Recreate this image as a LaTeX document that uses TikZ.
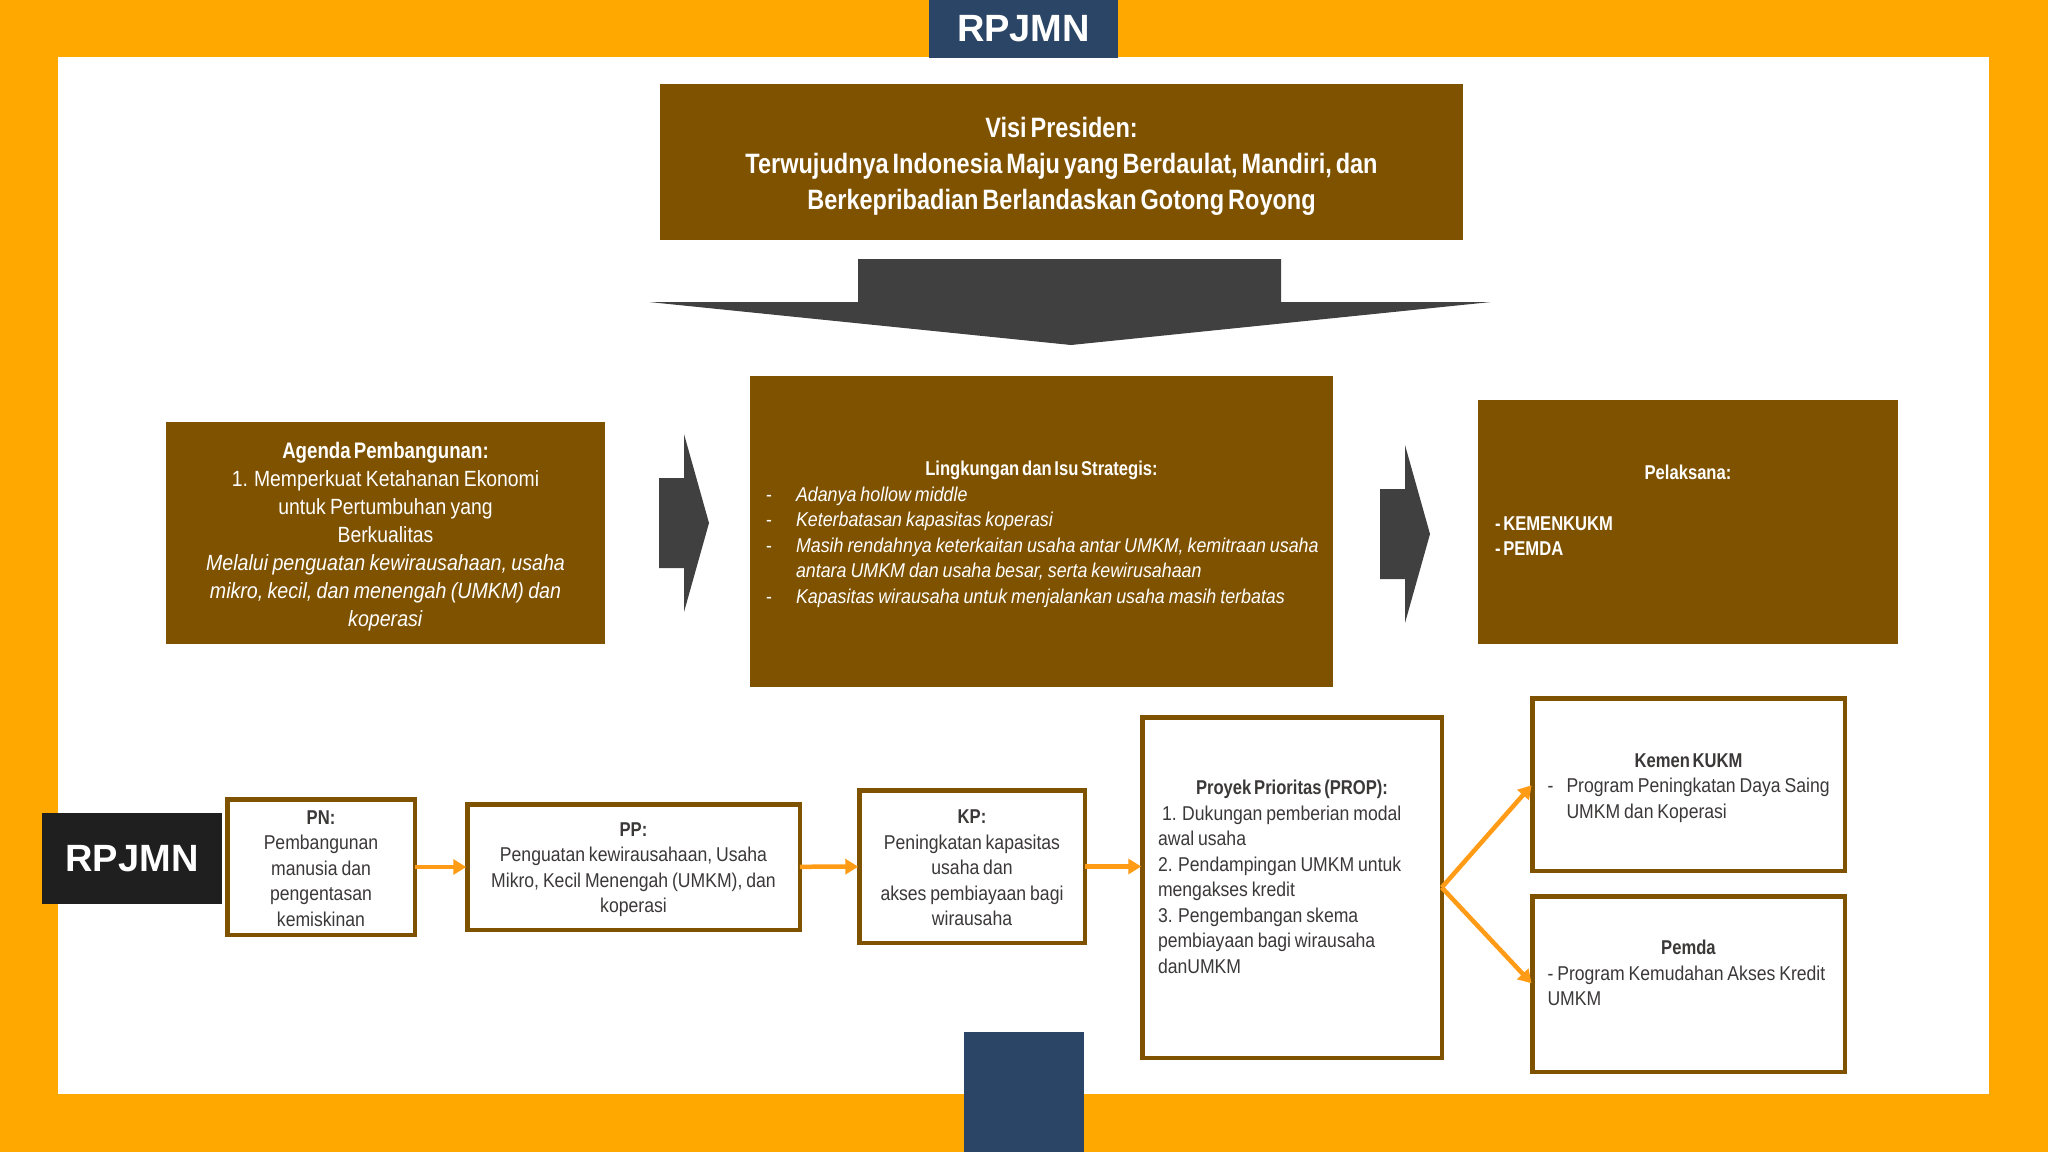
\documentclass[tikz,border=0pt]{standalone}
\usepackage{fontspec}
\setmainfont{Liberation Sans}[FakeStretch=.88,WordSpace=.8,BoldFeatures={FakeStretch=.83,WordSpace=.6},ItalicFeatures={FakeStretch=.892,WordSpace=.8}]
\newfontfamily\wide{Liberation Sans}
\newfontfamily\visifont{Liberation Sans Bold}[FakeStretch=.84,WordSpace=.6]
\usetikzlibrary{arrows.meta}
\definecolor{frameor}{HTML}{FFA800}
\definecolor{tabblue}{HTML}{2A4565}
\definecolor{brownb}{HTML}{7F5200}
\definecolor{arrowg}{HTML}{404040}
\definecolor{blk}{HTML}{1F1F1F}
\definecolor{darktxt}{HTML}{3B3838}
\definecolor{conn}{HTML}{FF9B14}
\newcommand{\firstup}[1]{\rule{0pt}{#1pt}}
\tikzset{
  x=1pt,y=-1pt,
  fbox/.style={fill=brownb,text=white,inner sep=0pt,outer sep=0pt},
  wbox/.style={draw=brownb,line width=4.5pt,fill=white,text=darktxt,inner sep=0pt,outer sep=0pt,
    font=\fontsize{20}{25.5}\selectfont},
  tabtxt/.style={text=white,inner sep=0pt,outer sep=0pt,font=\wide\fontsize{38}{40}\bfseries\selectfont},
  conn/.style={draw=conn,line width=4.5pt,-{Triangle[length=13pt,width=15pt]},shorten >=1pt},
  block/.style={fill=arrowg,draw=none}
}
\begin{document}
\begin{tikzpicture}
\useasboundingbox (0,0) rectangle (2048,1152);
\fill[frameor] (0,0) rectangle (2048,1152);
\fill[white] (58,57) rectangle (1989,1094);
% tabs
\node[fill=tabblue,tabtxt,minimum width=189pt,minimum height=58pt] (toptab) at (1023.5,29) {RPJMN};
\node[fill=tabblue,inner sep=0pt,outer sep=0pt,minimum width=120pt,minimum height=120pt] (bottomtab) at (1024,1092) {};
% upper boxes
\node[fbox,minimum width=803pt,minimum height=156pt,align=center,
  font=\visifont\fontsize{28}{36}\selectfont] (visi) at (1061.5,162)
  {\firstup{28}Visi Presiden:\\Terwujudnya Indonesia Maju yang Berdaulat, Mandiri, dan\\Berkepribadian Berlandaskan Gotong Royong};
\fill[block] (858,259) -- (1281,259) -- (1281,302) -- (1491,302) -- (1071,345) -- (649,302) -- (858,302) -- cycle;
\node[fbox,minimum width=439pt,minimum height=222pt,align=center,
  font=\fontsize{22}{28}\selectfont] (agenda) at (385.5,533)
  {\firstup{24.5}{\fontsize{22.5}{28}\selectfont\textbf{Agenda Pembangunan:}}\\1. Memperkuat Ketahanan Ekonomi\\untuk Pertumbuhan yang\\Berkualitas\\
   \textit{Melalui penguatan kewirausahaan, usaha}\\\textit{mikro, kecil, dan menengah (UMKM) dan}\\\textit{koperasi}};
\fill[block] (659,478) -- (684,478) -- (684,434) -- (709,523) -- (684,612) -- (684,568) -- (659,568) -- cycle;
\node[fbox,minimum width=583pt,minimum height=311pt,text width=551pt,align=flush left,
  font=\fontsize{20}{25.5}\selectfont] (isu) at (1041.5,531.5)
  {\firstup{20}\makebox[\linewidth]{\textbf{Lingkungan dan Isu Strategis:}}\\
   \makebox[30pt][l]{-}\textit{Adanya hollow middle}\\
   \makebox[30pt][l]{-}\textit{Keterbatasan kapasitas koperasi}\\
   \makebox[30pt][l]{-}\mbox{\textit{Masih rendahnya keterkaitan usaha antar UMKM, kemitraan usaha}}\\
   \hspace*{30pt}\textit{antara UMKM dan usaha besar, serta kewirusahaan}\\
   \makebox[30pt][l]{-}\mbox{\textit{Kapasitas wirausaha untuk menjalankan usaha masih terbatas}}};
\fill[block] (1380,489) -- (1405,489) -- (1405,445) -- (1430,534) -- (1405,623) -- (1405,579) -- (1380,579) -- cycle;
\node[fbox,minimum width=420pt,minimum height=244pt,text width=386pt,align=flush left,
  font=\fontsize{20}{25.5}\bfseries\selectfont] (pelaksana) at (1688,522)
  {\firstup{16}\makebox[\linewidth]{Pelaksana:}\\\mbox{}\\- KEMENKUKM\\- PEMDA\\\mbox{}};
% lower row
\node[fill=blk,tabtxt,minimum width=180pt,minimum height=91pt] (rpjmn) at (132,858.5) {RPJMN};
\node[wbox,minimum width=187.5pt,minimum height=135.5pt,align=center] (pn) at (321,867)
  {\firstup{17}\textbf{PN:}\\Pembangunan\\manusia dan\\pengentasan\\kemiskinan};
\node[wbox,minimum width=332.5pt,minimum height=125.5pt,align=center] (pp) at (633.5,867)
  {\firstup{19}\textbf{PP:}\\Penguatan kewirausahaan, Usaha\\Mikro, Kecil Menengah (UMKM), dan\\koperasi};
\node[wbox,minimum width=225.5pt,minimum height=152.5pt,align=center] (kp) at (972,866.5)
  {\firstup{17}\textbf{KP:}\\Peningkatan kapasitas\\usaha dan\\akses pembiayaan bagi\\wirausaha};
\node[wbox,minimum width=299.5pt,minimum height=340.5pt,text width=268pt,align=flush left] (prop) at (1292,887.5)
  {\firstup{18}\makebox[\linewidth]{\textbf{Proyek Prioritas (PROP):}}\\
   \hspace*{4pt}1. Dukungan pemberian modal\\awal usaha\\2. Pendampingan UMKM untuk\\mengakses kredit\\
   3. Pengembangan skema\\pembiayaan bagi wirausaha\\danUMKM\\\mbox{}};
\node[wbox,minimum width=312.5pt,minimum height=172.5pt,text width=282pt,align=flush left] (kukm) at (1688.5,784.5)
  {\firstup{20.5}\makebox[\linewidth]{\textbf{Kemen KUKM}}\\
   \makebox[19pt][l]{-}\mbox{Program Peningkatan Daya Saing}\\\hspace*{19pt}UMKM dan Koperasi};
\node[wbox,minimum width=312.5pt,minimum height=175.5pt,text width=282pt,align=flush left] (pemda) at (1688.5,984)
  {\firstup{18}\makebox[\linewidth]{\textbf{Pemda}}\\
   \mbox{- Program Kemudahan Akses Kredit}\\UMKM\\\mbox{}};
% connectors
\draw[conn] (pn) -- (pp);
\draw[conn] (pp) -- (kp);
\draw[conn] (kp.east) -- (kp.east -| prop.west);
\draw[conn] (prop.east) -- (kukm.west);
\draw[conn] (prop.east) -- (pemda.west);
\end{tikzpicture}
\end{document}
